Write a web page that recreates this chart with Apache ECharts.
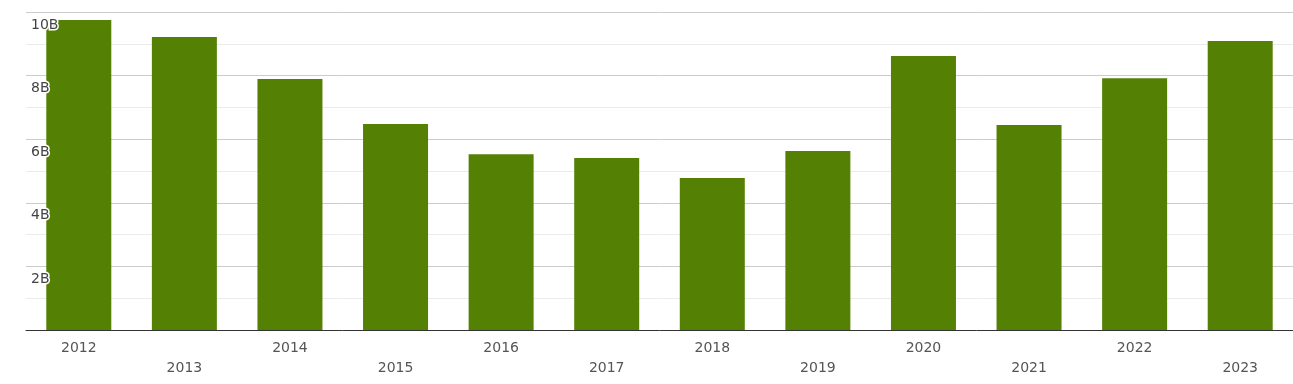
<!DOCTYPE html>
<html>
<head>
<meta charset="utf-8">
<script src="https://cdn.jsdelivr.net/npm/echarts@6/dist/echarts.min.js"></script>
<style>html,body{margin:0;padding:0;background:#fff;}#c{width:1293px;height:384px;}</style>
</head>
<body>
<div id="c"></div>
<script>
const years = ['2012','2013','2014','2015','2016','2017','2018','2019','2020','2021','2022','2023'];
const valuesB = [9.75, 9.21, 7.89, 6.48, 5.53, 5.41, 4.78, 5.63, 8.62, 6.45, 7.92, 9.09];
const yMaxB = 10;
const yStepB = 2;

const chart = echarts.init(document.getElementById('c'), null, {renderer: 'canvas'});
const baseY = {
  type: 'value',
  min: 0,
  max: yMaxB * 1e9,
  interval: yStepB * 1e9,
  position: 'left',
  axisLine: {show: false},
  axisTick: {show: false}
};
chart.setOption({
  animation: false,
  backgroundColor: '#fff',
  grid: {left: 26, right: 0, top: 12, bottom: 54, containLabel: false},
  xAxis: {
    type: 'category',
    data: years,
    z: 5,
    axisLine: {show: true, lineStyle: {color: '#333', width: 1}},
    axisTick: {show: false},
    axisLabel: {
      interval: 0,
      color: '#555',
      fontSize: 14,
      fontFamily: 'DejaVu Sans',
      lineHeight: 20,
      margin: 8,
      formatter: (v, i) => (i % 2 ? '\n' + v : v)
    }
  },
  yAxis: [
    Object.assign({}, baseY, {
      z: 0,
      splitLine: {show: true, lineStyle: {color: '#cccccc', width: 1}},
      minorTick: {show: false, splitNumber: 2},
      minorSplitLine: {show: true, lineStyle: {color: '#ebebeb', width: 1}},
      axisLabel: {show: false}
    }),
    Object.assign({}, baseY, {
      z: 10,
      splitLine: {show: false},
      axisLabel: {
        inside: true,
        margin: 5,
        align: 'left',
        verticalAlign: 'top',
        lineHeight: 26,
        color: '#444',
        fontSize: 14,
        fontFamily: 'DejaVu Sans',
        textBorderColor: '#fff',
        textBorderWidth: 3,
        formatter: v => (v === 0 ? '' : (v / 1e9) + 'B')
      }
    })
  ],
  series: [{
    type: 'bar',
    yAxisIndex: 0,
    data: valuesB.map(v => v * 1e9),
    barWidth: 65,
    itemStyle: {color: '#548003'},
    z: 2
  }]
});
</script>
</body>
</html>
